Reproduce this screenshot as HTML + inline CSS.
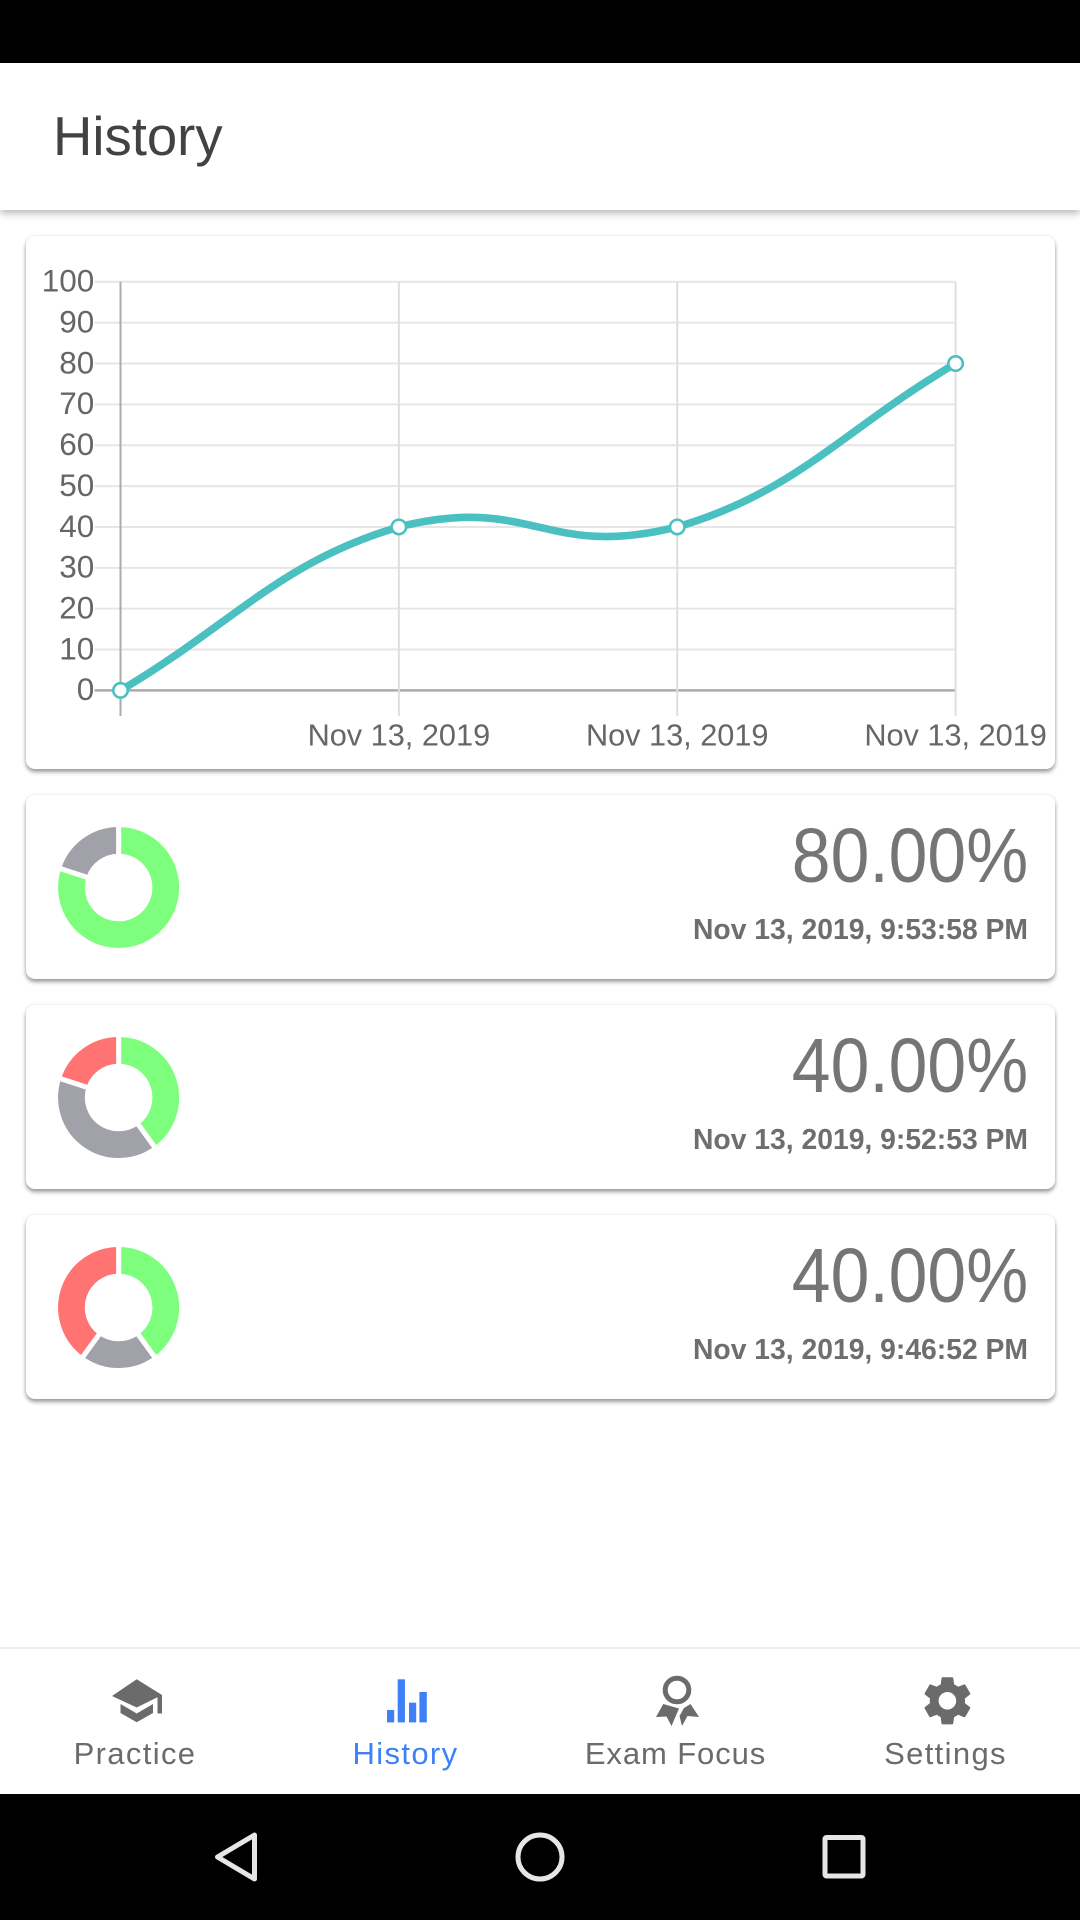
<!DOCTYPE html>
<html lang="en">
<head>
<meta charset="utf-8">
<title>History</title>
<style>
  html,body{margin:0;padding:0;background:#fff;}
  body{width:1080px;height:1920px;position:relative;overflow:hidden;font-family:"Liberation Sans",sans-serif;}
  .abs{position:absolute;}
  #status-bar{left:0;top:0;width:1080px;height:63px;background:#000;}
  #app-bar{left:0;top:63px;width:1080px;height:147px;background:#fff;box-shadow:0 3px 8px rgba(0,0,0,.3);z-index:2;}
  #app-title{position:absolute;left:53px;top:44px;font-size:54.5px;line-height:60px;color:#424242;white-space:nowrap;}
  .card{position:absolute;left:26px;width:1029px;background:#fff;border-radius:9px;box-shadow:0 3px 4px rgba(0,0,0,.38),0 0 4px rgba(0,0,0,.08);}
  .result{height:184px;}
  .pct{position:absolute;right:27px;top:21px;font-size:77px;line-height:80px;color:#757575;white-space:nowrap;transform:scaleX(.905);transform-origin:right center;}
  .stamp{position:absolute;right:27px;top:114px;font-size:28.3px;line-height:40px;font-weight:bold;color:#6e6e6e;white-space:nowrap;}
  .donut{position:absolute;left:0;top:0;}
  #chart{position:absolute;left:0;top:0;z-index:3;}
  #bottom-nav{left:0;top:1647px;width:1080px;height:147px;background:#fff;border-top:2px solid #eee;box-sizing:border-box;}
  .nav-label{position:absolute;top:1736px;font-size:31px;line-height:36px;letter-spacing:1.35px;color:#6b6b6b;white-space:nowrap;transform:translateX(-50%);}
  #nav-bar{left:0;top:1794px;width:1080px;height:126px;background:#000;}
  #icons{position:absolute;left:0;top:0;z-index:4;}
</style>
</head>
<body>
<div class="abs" id="status-bar"></div>
<div class="abs" id="app-bar">
  <div id="app-title">History</div>
</div>

<div class="card" style="top:236px;height:533px"></div>

<div class="card result" style="top:795px">
  <svg class="donut" id="donut-0" width="190" height="184"></svg>
  <div class="pct">80.00%</div>
  <div class="stamp">Nov 13, 2019, 9:53:58 PM</div>
</div>
<div class="card result" style="top:1005px">
  <svg class="donut" id="donut-1" width="190" height="184"></svg>
  <div class="pct">40.00%</div>
  <div class="stamp">Nov 13, 2019, 9:52:53 PM</div>
</div>
<div class="card result" style="top:1215px">
  <svg class="donut" id="donut-2" width="190" height="184"></svg>
  <div class="pct">40.00%</div>
  <div class="stamp">Nov 13, 2019, 9:46:52 PM</div>
</div>

<svg id="chart" width="1080" height="780" viewBox="0 0 1080 780"></svg>

<div class="abs" id="bottom-nav"></div>
<div class="nav-label" style="left:135px">Practice</div>
<div class="nav-label" style="left:405.5px;color:#3d80f7">History</div>
<div class="nav-label" style="left:675.5px;letter-spacing:.9px">Exam Focus</div>
<div class="nav-label" style="left:945.5px">Settings</div>
<div class="abs" id="nav-bar"></div>

<svg id="icons" width="1080" height="1920" viewBox="0 0 1080 1920">
  <g fill="#6b6b6b">
    <polygon points="136.7,1679.3 162,1695 136.7,1707.5 112,1696"/>
    <rect x="157.5" y="1695" width="4.5" height="18.5"/>
    <polygon points="120.5,1704 136.7,1713.5 153,1704 153,1713 136.7,1722.3 120.5,1713"/>
  </g>
  <g fill="#3d80f7">
    <rect x="387" y="1710" width="7.2" height="12.4"/>
    <rect x="397.7" y="1679.3" width="7.2" height="43.1"/>
    <rect x="409" y="1702.7" width="7.2" height="19.7"/>
    <rect x="419.4" y="1692" width="7.4" height="30.4"/>
  </g>
  <g>
    <circle cx="677" cy="1690" r="11.8" fill="none" stroke="#6b6b6b" stroke-width="5"/>
    <polygon fill="#6b6b6b" points="663.3,1704 679,1708.5 671.5,1726 666.5,1716.5 656,1717"/>
    <polygon fill="#6b6b6b" points="690.5,1704 699,1717 687.5,1716 682,1726 679.5,1716 684,1708"/>
  </g>
  <path fill="#6b6b6b" transform="translate(918,1671.4) scale(2.45)" d="M19.14 12.94c.04-.3.06-.61.06-.94 0-.32-.02-.64-.07-.94l2.03-1.58c.18-.14.23-.41.12-.61l-1.92-3.32c-.12-.22-.37-.29-.59-.22l-2.39.96c-.5-.38-1.03-.7-1.62-.94l-.36-2.54c-.04-.24-.24-.41-.48-.41h-3.84c-.24 0-.43.17-.47.41l-.36 2.54c-.59.24-1.13.57-1.62.94l-2.39-.96c-.22-.08-.47 0-.59.22L2.74 8.87c-.12.21-.08.47.12.61l2.03 1.58c-.05.3-.09.63-.09.94s.02.64.07.94l-2.03 1.58c-.18.14-.23.41-.12.61l1.92 3.32c.12.22.37.29.59.22l2.39-.96c.5.38 1.03.7 1.62.94l.36 2.54c.05.24.24.41.48.41h3.84c.24 0 .44-.17.47-.41l.36-2.54c.59-.24 1.13-.56 1.62-.94l2.39.96c.22.08.47 0 .59-.22l1.92-3.32c.12-.22.07-.47-.12-.61l-2.01-1.58zM12 15.6c-1.98 0-3.6-1.62-3.6-3.6s1.62-3.6 3.6-3.6 3.6 1.62 3.6 3.6-1.62 3.6-3.6 3.6z"/>
  <polygon points="217.5,1857 254.5,1835 254.5,1879" fill="none" stroke="#e6e6e6" stroke-width="5" stroke-linejoin="round"/>
  <circle cx="540" cy="1857" r="22" fill="none" stroke="#e6e6e6" stroke-width="5"/>
  <rect x="825" y="1837.5" width="38" height="38.5" rx="1.5" fill="none" stroke="#e6e6e6" stroke-width="5"/>
</svg>

<script>
// Line chart data
const dateLabels = ["", "Nov 13, 2019", "Nov 13, 2019", "Nov 13, 2019"];
const scoreValues = [0, 40, 40, 80];
const yTickValues = [0, 10, 20, 30, 40, 50, 60, 70, 80, 90, 100];
const yTickLabels = ["0", "10", "20", "30", "40", "50", "60", "70", "80", "90", "100"];

// Donut data (percent of questions per result card)
const correctShares = [80, 40, 40];
const skippedShares = [20, 40, 20];
const wrongShares = [0, 20, 40];

const SVGNS = "http://www.w3.org/2000/svg";
function make(parent, tag, attrs) {
  const el = document.createElementNS(SVGNS, tag);
  Object.keys(attrs).forEach(function (k) { el.setAttribute(k, attrs[k]); });
  parent.appendChild(el);
  return el;
}

// Axis functions
const plotLeft = 120.5, plotRight = 955.6, plotTop = 281.8, plotBottom = 690.4;
const tickEnd = 716, tickStart = 94.5;
function xScale(i) { return plotLeft + (plotRight - plotLeft) * i / (dateLabels.length - 1); }
function yScale(v) { return plotBottom - (plotBottom - plotTop) * v / 100; }

const chart = document.getElementById("chart");

yTickValues.forEach(function (v, i) {
  const y = yScale(v);
  const line = make(chart, "line", { x1: tickStart, x2: plotRight, y1: y, y2: y, stroke: v === 0 ? "#ababab" : "#e6e6e6", "stroke-width": v === 0 ? 2.5 : 2 });
  
  
  const label = make(chart, "text", { x: 94.3, y: y + 9.8, "text-anchor": "end", "font-size": 31.5, fill: "#666" });
  label.textContent = yTickLabels[i];
  
  
});

dateLabels.forEach(function (d, i) {
  const x = xScale(i);
  const line = make(chart, "line", { x1: x, x2: x, y1: plotTop, y2: tickEnd, stroke: i === 0 ? "#ababab" : "#dedede", "stroke-width": 2 });
  
  
  const label = make(chart, "text", { x: x, y: 745.5, "text-anchor": "middle", "font-size": 30.7, fill: "#666" });
  label.textContent = d;
  
  
});

// Cardinal spline through the points; interior segments use a slightly higher tension
const linePoints = scoreValues.map(function (v, i) { return { x: xScale(i), y: yScale(v) }; });
function controlPoints(i, tensionX, tensionY) {
  const cur = linePoints[i];
  const prev = linePoints[i - 1] || cur;
  const next = linePoints[i + 1] || cur;
  const d01 = Math.hypot(cur.x - prev.x, cur.y - prev.y);
  const d12 = Math.hypot(next.x - cur.x, next.y - cur.y);
  const total = (d01 + d12) || 1;
  return {
    inX: cur.x - tensionX * d01 / total * (next.x - prev.x),
    inY: cur.y - tensionY * d01 / total * (next.y - prev.y),
    outX: cur.x + tensionX * d12 / total * (next.x - prev.x),
    outY: cur.y + tensionY * d12 / total * (next.y - prev.y)
  };
}
let lineD = "M" + linePoints[0].x + " " + linePoints[0].y;
for (let i = 1; i < linePoints.length; i++) {
  const interior = i > 1 && i < linePoints.length - 1;
  const tx = interior ? 0.52 : 0.4;
  const ty = interior ? 0.44 : 0.4;
  const a = controlPoints(i - 1, tx, ty);
  const b = controlPoints(i, tx, ty);
  lineD += " C" + a.outX + " " + a.outY + " " + b.inX + " " + b.inY + " " + linePoints[i].x + " " + linePoints[i].y;
}
const scoreLine = make(chart, "path", { d: lineD, fill: "none", stroke: "#4bc0c0", "stroke-width": 7.6, "stroke-linecap": "round" });



linePoints.forEach(function (p) {
  const dot = make(chart, "circle", { cx: p.x, cy: p.y, r: 7.2, fill: "#fff", stroke: "#4bc0c0", "stroke-width": 2.6 });
  
  
});

// Donuts
const donutCx = 92.6, donutCy = 92.5, donutOuter = 63, donutInner = 31.3;
function polar(r, share) {
  const a = share / 100 * 2 * Math.PI;
  return [donutCx + r * Math.sin(a), donutCy - r * Math.cos(a)];
}
function arcPath(from, to) {
  const large = (to - from) > 50 ? 1 : 0;
  const p1 = polar(donutOuter, from), p2 = polar(donutOuter, to);
  const p3 = polar(donutInner, to), p4 = polar(donutInner, from);
  return "M" + p1[0] + " " + p1[1] +
    " A" + donutOuter + " " + donutOuter + " 0 " + large + " 1 " + p2[0] + " " + p2[1] +
    " L" + p3[0] + " " + p3[1] +
    " A" + donutInner + " " + donutInner + " 0 " + large + " 0 " + p4[0] + " " + p4[1] + " Z";
}
const segmentColors = ["#7dff7d", "#a1a1a9", "#ff7373"];
correctShares.forEach(function (c, i) {
  const svg = document.getElementById("donut-" + i);
  const shares = [c, skippedShares[i], wrongShares[i]];
  let start = 0;
  shares.forEach(function (s, j) {
    if (s <= 0) { return; }
    const seg = make(svg, "path", { d: arcPath(start, start + s), fill: segmentColors[j], stroke: "#fff", "stroke-width": 5 });
    
    
    start += s;
  });
});
</script>
</body>
</html>
